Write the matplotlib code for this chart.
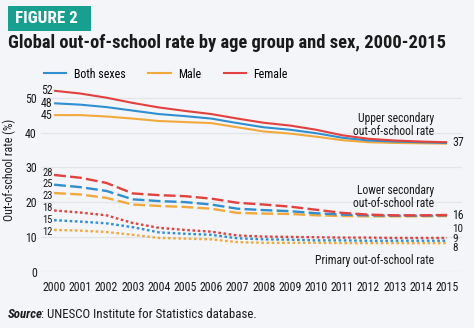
import matplotlib
matplotlib.use('Agg')
import matplotlib.pyplot as plt
from matplotlib import font_manager
from matplotlib.lines import Line2D
from matplotlib.patches import Rectangle

# ---------------- data ----------------
years = list(range(2000, 2016))

upper_female = [52.0, 51.2, 50.0, 48.5, 47.2, 46.2, 45.3, 44.0, 42.8, 42.0, 40.8, 39.2, 38.2, 37.7, 37.4, 37.2]
upper_both   = [48.4, 48.0, 47.3, 46.3, 45.3, 44.7, 44.0, 42.7, 41.5, 40.8, 39.8, 38.5, 37.7, 37.4, 37.2, 37.0]
upper_male   = [45.0, 45.0, 44.6, 44.0, 43.3, 43.0, 42.7, 41.5, 40.3, 39.7, 38.8, 37.8, 37.2, 37.0, 36.9, 36.8]

lower_female = [27.8, 27.0, 25.5, 22.5, 22.0, 21.7, 21.0, 19.8, 19.3, 18.7, 17.8, 16.9, 16.4, 16.2, 16.2, 16.3]
lower_both   = [25.0, 24.3, 23.2, 20.8, 20.3, 20.0, 19.3, 18.1, 17.7, 17.4, 16.8, 16.4, 16.2, 16.1, 16.1, 16.2]
lower_male   = [22.6, 22.2, 21.2, 19.3, 18.9, 18.6, 18.1, 16.9, 16.7, 16.6, 16.2, 16.0, 15.9, 15.9, 15.9, 16.0]

prim_female = [17.6, 17.0, 16.2, 14.0, 12.6, 12.0, 11.5, 10.4, 10.1, 10.0, 9.9, 9.8, 9.8, 9.7, 9.7, 9.7]
prim_both   = [14.8, 14.4, 13.9, 12.8, 11.3, 10.9, 10.6, 9.6, 9.3, 9.2, 9.0, 9.0, 8.9, 8.9, 8.9, 8.9]
prim_male   = [12.0, 11.8, 11.4, 10.6, 9.7, 9.5, 9.3, 8.5, 8.3, 8.3, 8.3, 8.2, 8.2, 8.2, 8.2, 8.2]

series_names = ['Both sexes', 'Male', 'Female']
start_labels = {'upper': ['48', '45', '52'], 'lower': ['25', '23', '28'], 'prim': ['15', '12', '18']}
end_labels = {'upper': ['37'], 'lower': ['16'], 'prim': ['10', '9', '8']}
group_titles = ['Upper secondary\nout-of-school rate', 'Lower secondary\nout-of-school rate',
                'Primary out-of-school rate']
y_ticks = [0, 10, 20, 30, 40, 50]

# ---------------- style ----------------
BG = '#f3f5f8'
GRID = '#e2e5ea'
TEAL = '#17a08f'
C_BOTH = '#2f8fd1'
C_MALE = '#f2a93b'
C_FEM = '#e2413e'
TXT = '#1a1a1a'

# look for a condensed face, else fall back to Liberation Sans
entries = font_manager.fontManager.ttflist
names = {f.name for f in entries}
FONT, STRETCH = 'Liberation Sans', 'normal'
for cand in ['Liberation Sans Narrow', 'Roboto Condensed', 'Open Sans Condensed',
             'Noto Sans Condensed', 'DejaVu Sans Condensed']:
    if cand in names:
        FONT = cand
        break
else:
    for f in entries:
        if f.name in ('Roboto', 'Noto Sans', 'Open Sans', 'DejaVu Sans') and \
                str(f.stretch) in ('condensed', 'semi-condensed', '75', '87'):
            FONT, STRETCH = f.name, f.stretch
            break
plt.rcParams['font.family'] = [FONT, 'DejaVu Sans']
plt.rcParams['font.stretch'] = STRETCH

FS = 8.6

W, H = 474, 328
fig = plt.figure(figsize=(W / 100, H / 100), dpi=100, facecolor=BG)

def fx(px):
    return px / W

def fy(py):
    return 1 - py / H

ax_l, ax_r, ax_b, ax_t = 41, 462, 271.7, 80.3
ax = fig.add_axes([fx(ax_l), fy(ax_b), fx(ax_r - ax_l), (ax_b - ax_t) / H])
ax.set_facecolor(BG)
ax.set_xlim(1999.5, 2015.57)
ax.set_ylim(0, 55)
for s in ax.spines.values():
    s.set_visible(False)
ax.set_yticks(y_ticks)
ax.set_xticks(years)
ax.tick_params(axis='both', length=0, labelsize=FS, colors=TXT)
ax.tick_params(axis='y', pad=3)
ax.tick_params(axis='x', pad=7)
ax.yaxis.grid(True, color=GRID, lw=0.9)
ax.set_axisbelow(True)
ax.set_ylabel('Out-of-school rate (%)', fontsize=FS, color=TXT)
ax.yaxis.set_label_coords(-0.06, 0.53)

colors = [C_BOTH, C_MALE, C_FEM]
groups = {
    'upper': ([upper_both, upper_male, upper_female], '-'),
    'lower': ([lower_both, lower_male, lower_female], (0, (5.0, 1.8))),
    'prim': ([prim_both, prim_male, prim_female], (0, (1.1, 1.1))),
}
# small vertical nudges (data units) so tightly stacked start labels stay legible
label_nudge = {'upper': [0, 0, 0], 'lower': [0.1, -0.8, 0.7], 'prim': [0.0, -0.6, 0.6]}
label_fs = {'upper': FS, 'lower': 7.6, 'prim': 7.6}
order = [1, 0, 2]  # male, both, female (female on top)
for key, (vals, ls) in groups.items():
    lw = 1.5 if key == 'upper' else 1.7
    for i in order:
        ax.plot(years, vals[i], color=colors[i], lw=lw, linestyle=ls,
                dash_capstyle='butt', solid_capstyle='butt')
    for i in range(3):
        ax.text(1999.95, vals[i][0] + label_nudge[key][i], start_labels[key][i],
                ha='right', va='center', fontsize=label_fs[key], color=TXT)

# end labels
ax.text(2015.2, upper_both[-1], end_labels['upper'][0], ha='left', va='center', fontsize=FS, color=TXT)
ax.text(2015.2, lower_both[-1], end_labels['lower'][0], ha='left', va='center', fontsize=FS, color=TXT)
for lab, yv in zip(end_labels['prim'], [12.3, 9.5, 6.8]):
    ax.text(2015.2, yv, lab, ha='left', va='center', fontsize=8, color=TXT)

renderer = fig.canvas.get_renderer()

def fit(t, target_px):
    bb = t.get_window_extent(renderer=renderer)
    t.set_fontsize(t.get_fontsize() * target_px / bb.width)
    return t

# group annotations
t1 = ax.text(2014.5, 42.1, group_titles[0], ha='right', va='center', fontsize=FS, color=TXT,
             multialignment='right', linespacing=0.95)
t2 = ax.text(2014.5, 21.5, group_titles[1], ha='right', va='center', fontsize=FS, color=TXT,
             multialignment='right', linespacing=0.95)
t3 = ax.text(2014.5, 3.1, group_titles[2], ha='right', va='center', fontsize=FS, color=TXT)
fit(t3, 119)
t1.set_fontsize(t3.get_fontsize())
t2.set_fontsize(t3.get_fontsize())

# legend
handles = [Line2D([], [], color=c, lw=1.5) for c in colors]
fig.legend(handles, series_names, ncol=3, loc='center left',
           bbox_to_anchor=(fx(33), fy(74)), frameon=False, fontsize=FS,
           handlelength=1.9, handletextpad=0.6, columnspacing=1.9)

# header box
fig.patches.append(Rectangle((fx(8), fy(30.5)), fx(83), (24.5) / H, transform=fig.transFigure,
                             facecolor=TEAL, edgecolor='none'))

t = fig.text(fx(15), fy(18.5), 'FIGURE 2', fontsize=10, fontweight='bold', color='white',
             ha='left', va='center')
fit(t, 62)

t = fig.text(fx(8), fy(48.5), 'Global out-of-school rate by age group and sex, 2000-2015',
             fontsize=11, fontweight='bold', color=TXT, ha='left', va='baseline')
fit(t, 436)

s1 = fig.text(fx(8), fy(318), 'Source', fontsize=9, fontweight='bold', style='italic',
              color=TXT, ha='left', va='baseline')
bb = s1.get_window_extent(renderer=renderer)
s2 = fig.text(bb.x1 / W, fy(318), ': UNESCO Institute for Statistics database.', fontsize=9,
              color=TXT, ha='left', va='baseline')
bb2 = s2.get_window_extent(renderer=renderer)
scale = (258 - 8) / (bb2.x1 - 8)
s1.set_fontsize(9 * scale)
s2.set_fontsize(9 * scale)
bb = s1.get_window_extent(renderer=renderer)
s2.set_x((bb.x1 - 2) / W)

fig.savefig('out.png', dpi=100, facecolor=BG)
